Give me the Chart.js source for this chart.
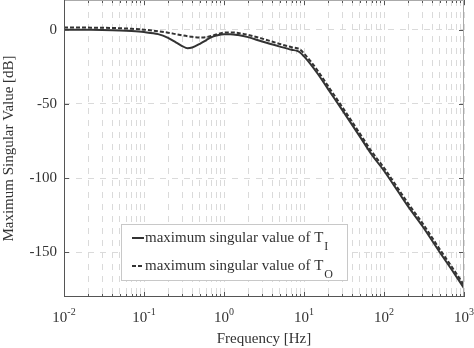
<!DOCTYPE html>
<html>
<head>
<meta charset="utf-8">
<script src="https://cdn.jsdelivr.net/npm/chart.js@4.4.0/dist/chart.umd.min.js"></script>
<style>
    html, body { margin: 0; padding: 0; background: #fff; }
    #wrap { width: 474px; height: 348px; }
</style>
</head>
<body>
<div id="wrap"><canvas id="svChart" width="474" height="348"></canvas></div>
<script>
// Maximum singular value plot (Bode-style, log frequency axis)

const freqs = [0.01, 0.02, 0.03, 0.05, 0.07, 0.1, 0.15, 0.2, 0.25, 0.3, 0.35, 0.4, 0.5, 0.6, 0.7, 0.8, 1, 1.2, 1.5, 2, 3, 5, 7, 8.2, 9, 10, 12, 15, 20, 30, 50, 70, 100, 150, 200, 300, 500, 700, 1000];
const sigmaTI = [0, -0.1, -0.2, -0.5, -0.9, -1.6, -3, -5.5, -8.5, -11, -12.5, -12, -9.5, -7, -5, -4, -3, -3, -3.6, -5, -8, -11.4, -13.5, -14.3, -15.5, -18, -23, -30, -40, -54, -72, -84, -95, -109, -119, -132, -150, -161.5, -174];
const sigmaTO = [1.5, 1.4, 1.3, 1, 0.6, 0, -1, -2, -3, -3.8, -4.4, -4.8, -5.2, -5, -4.2, -3.2, -2, -1.8, -2.2, -3.5, -6, -9.6, -11.8, -12.5, -13.5, -16, -21, -28, -38, -52, -70, -82, -93, -107, -117, -130, -148, -159.5, -172];

const xDecades = [0.01, 0.1, 1, 10, 100, 1000];
const xExponents = ['-2', '-1', '0', '1', '2', '3'];
const yTicks = [0, -50, -100, -150];
const legendText = ['maximum singular value of T', 'maximum singular value of T'];
const legendSubs = ['I', 'O'];

const FONT = "'Liberation Serif', 'Times New Roman', serif";
const INK = '#333333';

function toPoints(ys) {
    return freqs.map((f, i) => ({ x: f, y: ys[i] }));
}

// minor + major tick positions for the log axis
function logTickValues() {
    const vals = [];
    for (let i = 0; i < xDecades.length - 1; i++) {
        for (let n = 1; n <= 9; n++) vals.push(n * xDecades[i]);
    }
    vals.push(xDecades[xDecades.length - 1]);
    return vals;
}

const framePlugin = {
    id: 'frame',
    afterDatasetsDraw(chart) {
        const { ctx, chartArea: a, scales } = chart;
        const xs = scales.x, ys = scales.y;
        ctx.save();

        // inward ticks
        ctx.strokeStyle = '#555';
        ctx.lineWidth = 1;
        ctx.beginPath();
        logTickValues().forEach(v => {
            const px = Math.round(xs.getPixelForValue(v)) + 0.5;
            const len = xDecades.includes(v) ? 5 : 3;
            ctx.moveTo(px, a.bottom); ctx.lineTo(px, a.bottom - len);
            ctx.moveTo(px, a.top); ctx.lineTo(px, a.top + len);
        });
        yTicks.forEach(v => {
            const py = Math.round(ys.getPixelForValue(v)) + 0.5;
            ctx.moveTo(a.left, py); ctx.lineTo(a.left + 5, py);
            ctx.moveTo(a.right, py); ctx.lineTo(a.right - 5, py);
        });
        ctx.stroke();

        // box
        ctx.strokeStyle = '#aaa';
        ctx.beginPath();
        ctx.moveTo(a.left, a.top + 0.5); ctx.lineTo(a.right - 0.5, a.top + 0.5); ctx.lineTo(a.right - 0.5, a.bottom);
        ctx.stroke();
        ctx.strokeStyle = '#555';
        ctx.beginPath();
        ctx.moveTo(a.left + 0.5, a.top); ctx.lineTo(a.left + 0.5, a.bottom - 0.5); ctx.lineTo(a.right, a.bottom - 0.5);
        ctx.stroke();

        // x tick labels with superscript exponents
        ctx.fillStyle = INK;
        ctx.textBaseline = 'alphabetic';
        ctx.textAlign = 'left';
        xDecades.forEach((v, i) => {
            const px = xs.getPixelForValue(v);
            ctx.font = '15px ' + FONT;
            const wBase = ctx.measureText('10').width;
            ctx.font = '10px ' + FONT;
            const wExp = ctx.measureText(xExponents[i]).width;
            const x0 = px - (wBase + wExp) / 2;
            ctx.font = '15px ' + FONT;
            ctx.fillText('10', x0, a.bottom + 25);
            ctx.font = '10px ' + FONT;
            ctx.fillText(xExponents[i], x0 + wBase, a.bottom + 18);
        });

        // legend
        const lx = a.left + 57, ly = a.top + 224, lw = 226, lh = 56;
        ctx.fillStyle = '#fff';
        ctx.fillRect(lx, ly, lw, lh);
        ctx.strokeStyle = '#c8c8c8';
        ctx.strokeRect(lx + 0.5, ly + 0.5, lw, lh);
        chart.data.datasets.forEach((ds, i) => {
            const cy = ly + 14 + i * 28;
            ctx.strokeStyle = ds.borderColor;
            ctx.lineWidth = 2;
            ctx.setLineDash(ds.borderDash || []);
            ctx.beginPath();
            ctx.moveTo(lx + 11, cy); ctx.lineTo(lx + 23, cy);
            ctx.stroke();
            ctx.setLineDash([]);
            ctx.fillStyle = INK;
            ctx.font = '15px ' + FONT;
            ctx.fillText(legendText[i], lx + 24, cy + 4);
            const w = ctx.measureText(legendText[i]).width;
            ctx.font = '12px ' + FONT;
            ctx.fillText(legendSubs[i], lx + 24 + w + 1, cy + 12);
        });
        ctx.restore();
    }
};

function renderChart() {
    const ctx = document.getElementById('svChart').getContext('2d');
    new Chart(ctx, {
        type: 'line',
        data: {
            datasets: [
                {
                    label: 'maximum singular value of T_I',
                    data: toPoints(sigmaTI),
                    borderColor: '#333',
                    borderWidth: 2,
                    pointRadius: 0,
                    cubicInterpolationMode: 'monotone',
                    fill: false
                },
                {
                    label: 'maximum singular value of T_O',
                    data: toPoints(sigmaTO),
                    borderColor: '#333',
                    borderWidth: 2,
                    borderDash: [4, 2],
                    pointRadius: 0,
                    cubicInterpolationMode: 'monotone',
                    fill: false
                }
            ]
        },
        options: {
            responsive: false,
            animation: false,
            devicePixelRatio: 1,
            layout: { padding: { top: 0, right: 10, left: 0, bottom: 0 } },
            plugins: {
                legend: { display: false },
                tooltip: { enabled: false }
            },
            scales: {
                x: {
                    type: 'logarithmic',
                    min: 0.01,
                    max: 1000,
                    afterBuildTicks: scale => {
                        scale.ticks = logTickValues().map(v => ({ value: v }));
                    },
                    afterFit: scale => {
                        scale.height = 51;
                        scale.paddingLeft = 0;
                        scale.paddingRight = 0;
                    },
                    ticks: { display: false },
                    grid: { color: '#dadada', lineWidth: 1, drawTicks: false },
                    border: { display: false, dash: [6, 6] },
                    title: {
                        display: true,
                        text: 'Frequency [Hz]',
                        color: INK,
                        font: { family: FONT, size: 15 },
                        padding: { top: 0, bottom: 0 }
                    }
                },
                y: {
                    min: -180,
                    max: 20,
                    afterBuildTicks: scale => {
                        scale.ticks = yTicks.map(v => ({ value: v }));
                    },
                    afterFit: scale => {
                        scale.width = 64;
                        scale.paddingTop = 0;
                        scale.paddingBottom = 0;
                    },
                    ticks: {
                        color: INK,
                        padding: 7,
                        font: { family: FONT, size: 15 }
                    },
                    grid: { color: '#dadada', lineWidth: 1, drawTicks: false },
                    border: { display: false, dash: [6, 6] },
                    title: {
                        display: true,
                        text: 'Maximum Singular Value [dB]',
                        color: INK,
                        font: { family: FONT, size: 15 },
                        padding: { top: 0, bottom: 0 }
                    }
                }
            }
        },
        plugins: [framePlugin]
    });
}

document.addEventListener('DOMContentLoaded', () => {
    renderChart();
});
</script>
</body>
</html>
